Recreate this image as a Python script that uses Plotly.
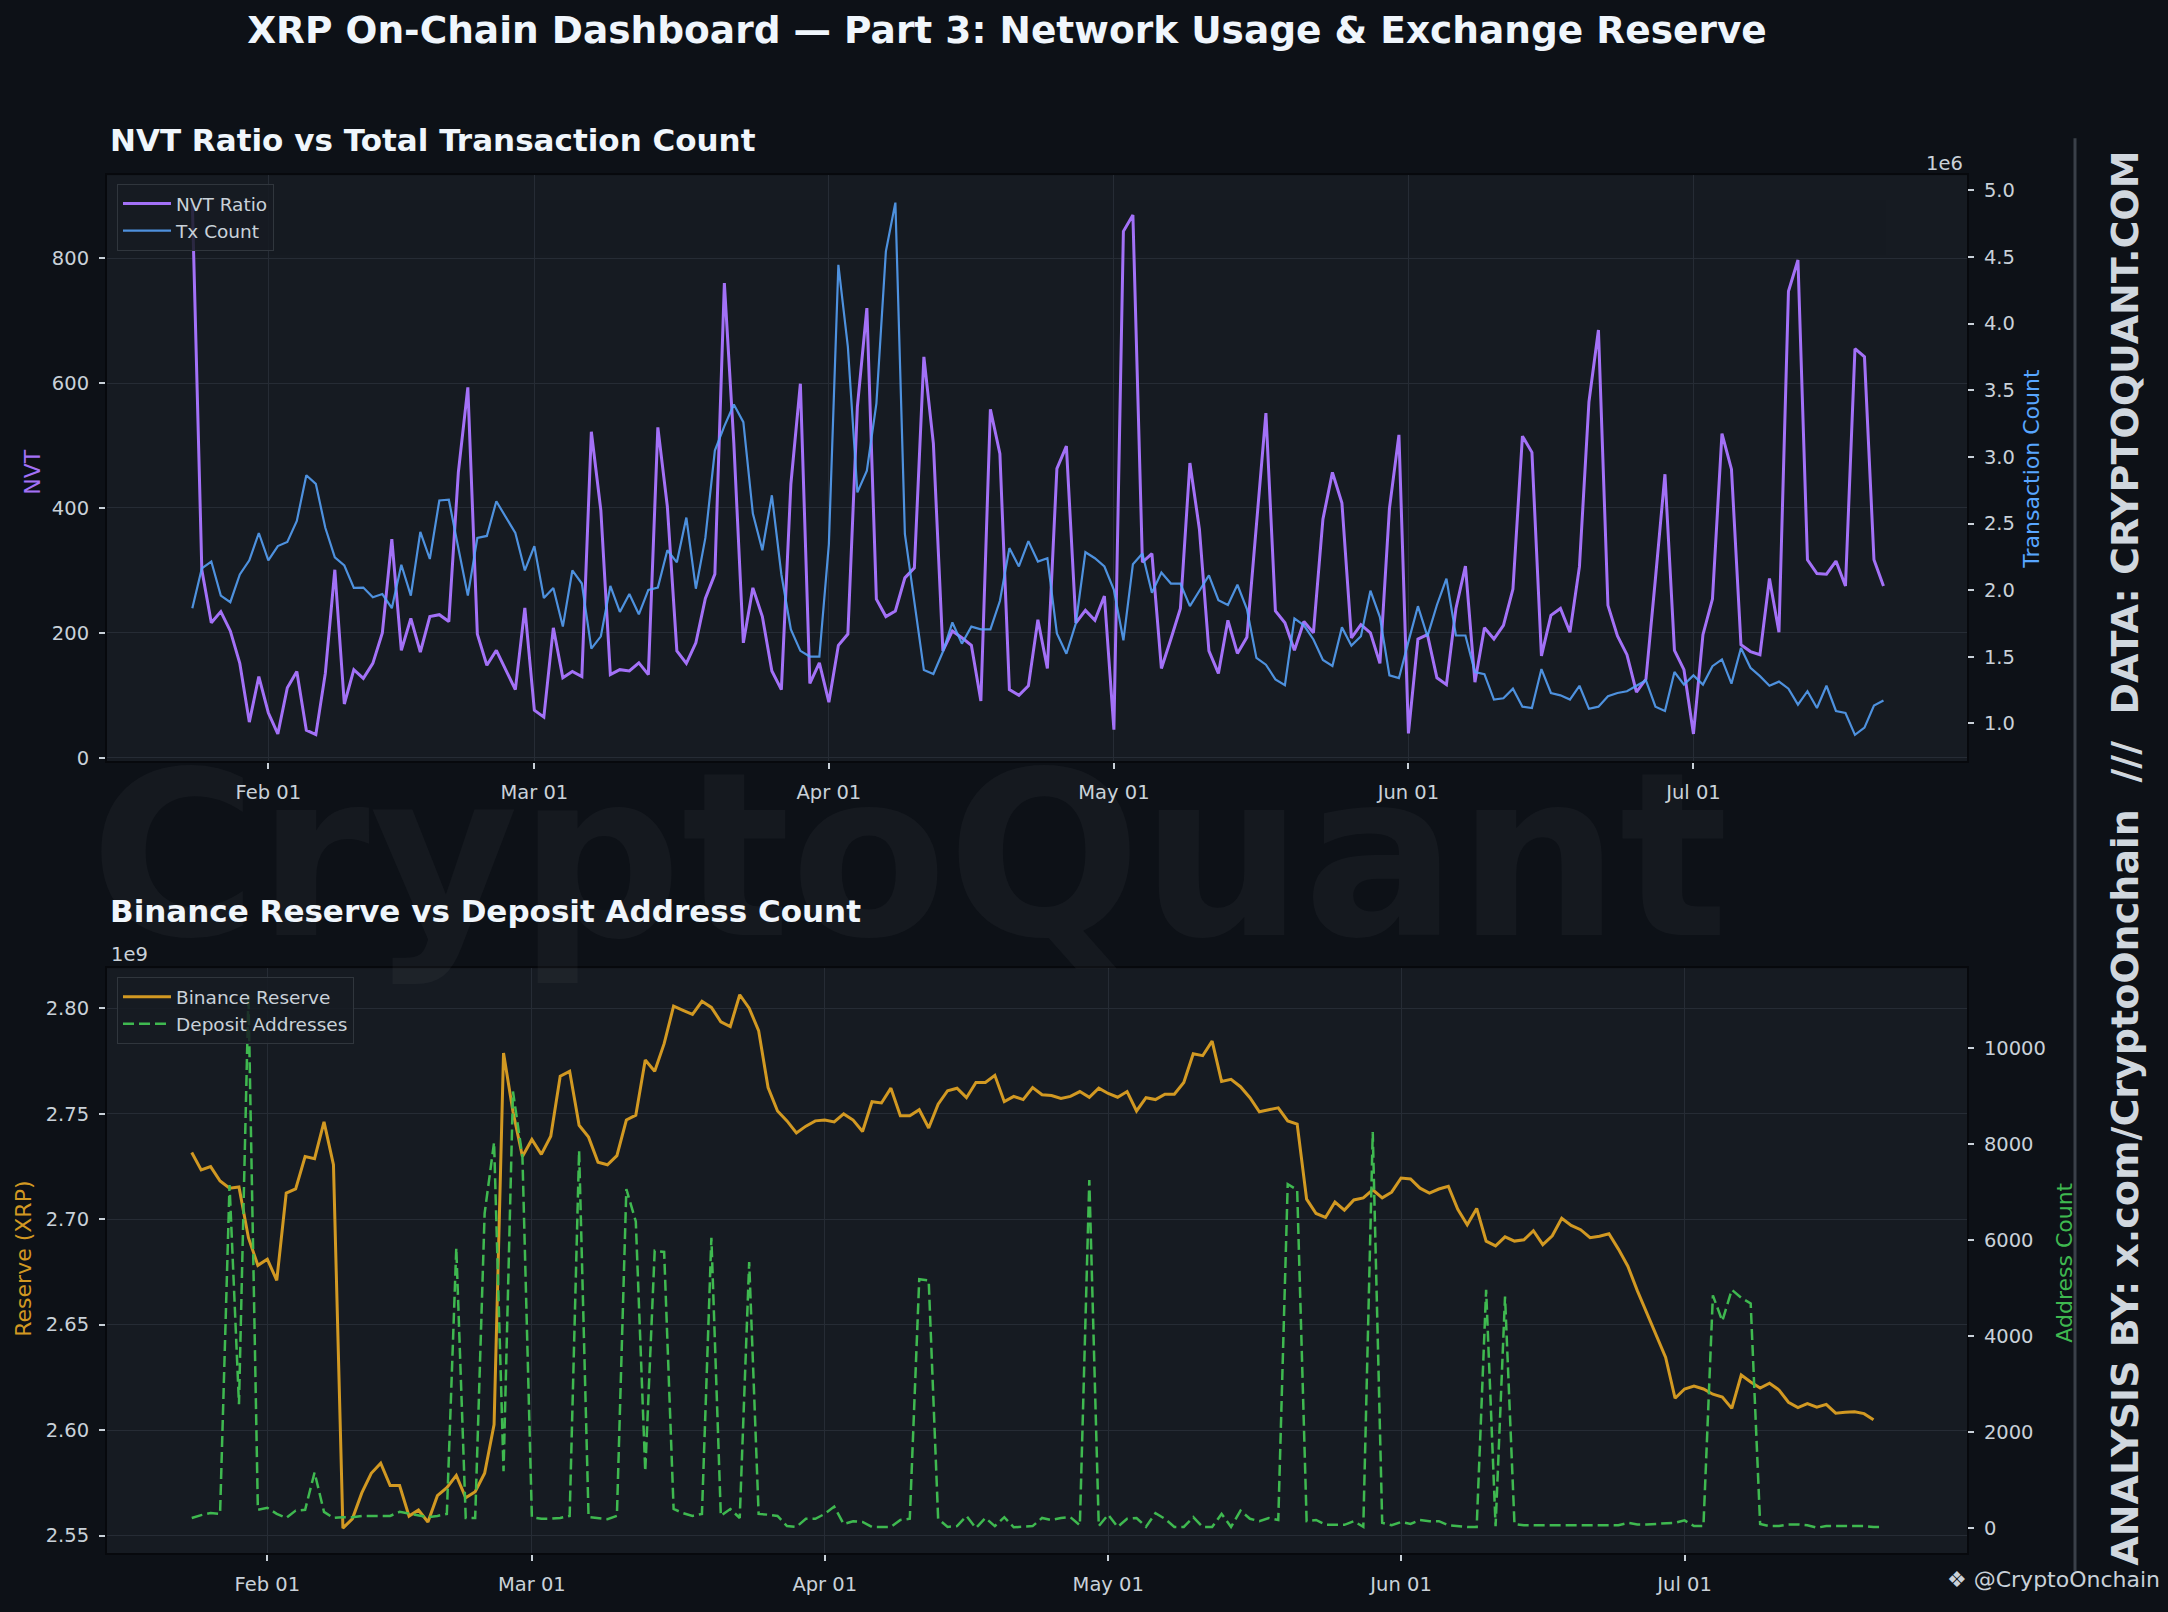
import plotly.graph_objects as go
import pandas as pd

# ---------- data (daily) ----------
start_day = "2025-01-24"

nvt_ratio = [
    890, 301, 216, 234, 203, 151, 57, 130, 72, 38,
    112, 138, 44, 37, 135, 301, 86, 141, 127, 151,
    200, 350, 172, 223, 169, 226, 229, 218, 457, 593,
    198, 148, 172, 141, 109, 240, 76, 65, 208, 128,
    138, 130, 522, 396, 133, 141, 139, 152, 133, 529,
    402, 171, 151, 184, 255, 294, 760, 503, 184, 272,
    226, 139, 109, 438, 599, 119, 152, 89, 180, 198,
    562, 720, 254, 226, 235, 288, 304, 642, 503, 171,
    203, 192, 180, 91, 558, 487, 109, 100, 115, 221,
    143, 463, 499, 216, 236, 220, 259, 45, 843, 869,
    313, 327, 143, 190, 239, 472, 366, 171, 135, 220,
    167, 193, 373, 552, 235, 216, 172, 218, 200, 382,
    457, 408, 192, 213, 200, 151, 399, 517, 39, 190,
    197, 128, 117, 239, 307, 121, 208, 190, 212, 270,
    515, 489, 163, 228, 239, 201, 306, 570, 685, 244,
    195, 165, 105, 126, 287, 454, 172, 141, 38, 197,
    254, 519, 462, 181, 170, 165, 287, 201, 747, 797,
    317, 295, 294, 315, 275, 655, 642, 317, 275,
]

# transaction count, millions
tx_count_m = [
    1.865, 2.163, 2.215, 1.959, 1.910, 2.118, 2.224, 2.429, 2.224, 2.331,
    2.362, 2.520, 2.862, 2.798, 2.468, 2.246, 2.185, 2.017, 2.020, 1.947,
    1.971, 1.865, 2.191, 1.959, 2.438, 2.234, 2.673, 2.679, 2.316, 1.959,
    2.392, 2.407, 2.667, 2.551, 2.429, 2.148, 2.331, 1.941, 2.017, 1.727,
    2.148, 2.050, 1.562, 1.654, 2.032, 1.837, 1.971, 1.819, 2.002, 2.020,
    2.300, 2.209, 2.545, 2.011, 2.392, 3.048, 3.231, 3.393, 3.261, 2.575,
    2.300, 2.712, 2.118, 1.706, 1.545, 1.502, 1.502, 2.346, 4.441, 3.826,
    2.734, 2.896, 3.399, 4.542, 4.908, 2.423, 1.904, 1.401, 1.371, 1.538,
    1.758, 1.599, 1.727, 1.706, 1.706, 1.919, 2.316, 2.178, 2.368, 2.215,
    2.240, 1.675, 1.523, 1.752, 2.285, 2.240, 2.178, 2.002, 1.624, 2.194,
    2.276, 1.980, 2.133, 2.050, 2.050, 1.880, 1.996, 2.111, 1.925, 1.889,
    2.041, 1.858, 1.492, 1.441, 1.331, 1.288, 1.788, 1.736, 1.630, 1.477,
    1.431, 1.721, 1.584, 1.654, 1.996, 1.798, 1.361, 1.340, 1.614, 1.880,
    1.654, 1.889, 2.087, 1.660, 1.660, 1.386, 1.370, 1.179, 1.189, 1.261,
    1.126, 1.116, 1.408, 1.229, 1.211, 1.179, 1.283, 1.110, 1.126, 1.204,
    1.229, 1.242, 1.283, 1.324, 1.126, 1.094, 1.386, 1.292, 1.361, 1.292,
    1.430, 1.481, 1.299, 1.566, 1.418, 1.355, 1.283, 1.314, 1.261, 1.141,
    1.242, 1.116, 1.283, 1.094, 1.079, 0.915, 0.969, 1.135, 1.173,
]

# Binance reserve, billions of XRP
binance_reserve_b = [
    2.7316, 2.7233, 2.7249, 2.7181, 2.7147, 2.7153, 2.6912, 2.6781, 2.6810, 2.6710,
    2.7124, 2.7143, 2.7297, 2.7287, 2.7461, 2.7258, 2.5535, 2.5579, 2.5702, 2.5795,
    2.5843, 2.5737, 2.5737, 2.5592, 2.5621, 2.5564, 2.5689, 2.5727, 2.5785, 2.5679,
    2.5708, 2.5795, 2.6026, 2.7788, 2.7509, 2.7297, 2.7378, 2.7307, 2.7393, 2.7678,
    2.7701, 2.7445, 2.7389, 2.7270, 2.7258, 2.7301, 2.7470, 2.7493, 2.7755, 2.7701,
    2.7832, 2.8010, 2.7990, 2.7971, 2.8033, 2.8004, 2.7936, 2.7913, 2.8064, 2.8000,
    2.7894, 2.7624, 2.7513, 2.7466, 2.7409, 2.7441, 2.7466, 2.7470, 2.7461, 2.7499,
    2.7470, 2.7416, 2.7557, 2.7551, 2.7621, 2.7490, 2.7490, 2.7519, 2.7432, 2.7545,
    2.7609, 2.7621, 2.7576, 2.7648, 2.7648, 2.7682, 2.7557, 2.7582, 2.7567, 2.7624,
    2.7590, 2.7586, 2.7572, 2.7582, 2.7605, 2.7578, 2.7621, 2.7596, 2.7578, 2.7605,
    2.7513, 2.7576, 2.7567, 2.7592, 2.7592, 2.7648, 2.7784, 2.7775, 2.7844, 2.7653,
    2.7663, 2.7628, 2.7576, 2.7509, 2.7519, 2.7528, 2.7466, 2.7451, 2.7095, 2.7027,
    2.7008, 2.7081, 2.7043, 2.7091, 2.7101, 2.7139, 2.7101, 2.7128, 2.7195, 2.7191,
    2.7147, 2.7124, 2.7143, 2.7156, 2.7047, 2.6973, 2.7051, 2.6896, 2.6873, 2.6916,
    2.6896, 2.6902, 2.6945, 2.6879, 2.6921, 2.7004, 2.6970, 2.6950, 2.6912, 2.6919,
    2.6931, 2.6858, 2.6777, 2.6661, 2.6556, 2.6450, 2.6344, 2.6151, 2.6195, 2.6209,
    2.6195, 2.6170, 2.6157, 2.6103, 2.6261, 2.6228, 2.6199, 2.6222, 2.6190, 2.6132,
    2.6107, 2.6126, 2.6109, 2.6122, 2.6080, 2.6084, 2.6087, 2.6078, 2.6049,
]

deposit_addresses = [
    211, 271, 313, 296, 7149, 2580, 11125, 381, 423, 296,
    211, 364, 381, 1159, 338, 211, 228, 228, 254, 254,
    254, 254, 338, 296, 254, 228, 254, 296, 5838, 211,
    211, 6557, 8037, 1184, 9095, 7741, 228, 195, 195, 211,
    254, 7868, 228, 211, 186, 254, 7064, 6387, 1184, 5778,
    5753, 398, 313, 254, 296, 6049, 254, 398, 211, 5541,
    296, 279, 254, 42, 25, 195, 195, 296, 448, 85,
    144, 127, 25, 25, 25, 169, 195, 5186, 5161, 195,
    25, 42, 254, 0, 211, 42, 228, 17, 25, 42,
    211, 169, 211, 228, 59, 7250, 42, 279, 25, 195,
    211, 25, 313, 195, 25, 25, 228, 25, 25, 296,
    25, 364, 195, 144, 211, 169, 7166, 7047, 144, 169,
    68, 68, 68, 144, 25, 8249, 110, 59, 127, 85,
    169, 144, 144, 59, 42, 25, 25, 4966, 42, 4822,
    85, 59, 59, 59, 59, 59, 59, 59, 59, 59,
    59, 59, 110, 76, 76, 85, 93, 110, 161, 42,
    42, 4848, 4315, 4966, 4797, 4679, 85, 42, 42, 76,
    76, 59, 8, 42, 42, 42, 42, 42, 25, 25,
]

dates = pd.date_range(start_day, periods=len(nvt_ratio), freq="D")
dates_addr = pd.date_range(start_day, periods=len(deposit_addresses), freq="D")

# ---------- style ----------
BG = "#0d1117"
PANEL = "#161b22"
GRID = "#262c35"
TXT = "#c9d1d9"
PURPLE = "#a371f7"
BLUE = "#58a6ff"
ORANGE = "#d29922"
GREEN = "#3fb950"
FONT = "DejaVu Sans"

W, H = 2168, 1612
def px_x(v):
    return v / W
def px_y(v):
    return 1 - v / H

x_dom = [px_x(107), px_x(1967)]
top_dom = [px_y(765), px_y(176)]
bot_dom = [px_y(1561), px_y(973)]

fig = go.Figure()
fig.add_trace(go.Scatter(x=dates, y=nvt_ratio, name="NVT Ratio", mode="lines",
                         line=dict(color=PURPLE, width=3), xaxis="x", yaxis="y", legend="legend"))
fig.add_trace(go.Scatter(x=dates, y=tx_count_m, name="Tx Count", mode="lines", opacity=0.85,
                         line=dict(color=BLUE, width=2.2), xaxis="x", yaxis="y2", legend="legend"))
fig.add_trace(go.Scatter(x=dates, y=binance_reserve_b, name="Binance Reserve", mode="lines",
                         line=dict(color=ORANGE, width=3), xaxis="x2", yaxis="y3", legend="legend2"))
fig.add_trace(go.Scatter(x=dates_addr, y=deposit_addresses, name="Deposit Addresses", mode="lines",
                         line=dict(color=GREEN, width=2.5, dash="11px,5px"),
                         xaxis="x2", yaxis="y4", legend="legend2"))

tick_font = dict(family=FONT, size=19.5, color=TXT)
axis_common = dict(showgrid=True, gridcolor=GRID, gridwidth=1, zeroline=False,
                   ticks="outside", ticklen=6, tickwidth=1.5, tickcolor=TXT,
                   tickfont=tick_font, showline=True, linecolor="#07090d", linewidth=2,
                   ticklabelstandoff=6)
date_axis = dict(axis_common, type="date", tickformat="%b %d", dtick="M1", tick0="2025-02-01",
                 domain=x_dom, mirror=True)

legend_style = dict(bgcolor="rgba(22,27,34,0.85)", bordercolor="#30363d", borderwidth=1,
                    font=dict(family=FONT, size=18.5, color=TXT), itemwidth=48,
                    xanchor="left", yanchor="top", tracegroupgap=0)

fig.update_layout(
    width=W, height=H, autosize=False,
    paper_bgcolor=BG, plot_bgcolor=PANEL,
    margin=dict(l=0, r=0, t=0, b=0),
    font=dict(family=FONT, color=TXT),
    title=dict(text="<b>XRP On-Chain Dashboard — Part 3: Network Usage & Exchange Reserve</b>",
               x=px_x(1007), xanchor="center", y=px_y(30), yanchor="middle",
               font=dict(family=FONT, size=37.5, color="#f0f6fc")),
    xaxis=dict(date_axis, anchor="y",
               range=["2025-01-15 00:30", "2025-07-29 19:00"]),
    yaxis=dict(axis_common, domain=top_dom, anchor="x", range=[-5.6, 933], dtick=200, mirror=True),
    yaxis2=dict(axis_common, overlaying="y", side="right", anchor="x", range=[0.717, 5.114],
                dtick=0.5, tickformat=".1f", showgrid=False, showline=False),
    xaxis2=dict(date_axis, anchor="y3",
                range=["2025-01-15 00:45", "2025-07-30 21:30"]),
    yaxis3=dict(axis_common, domain=bot_dom, anchor="x2", range=[2.5416, 2.819], dtick=0.05,
                tickformat=".2f", mirror=True),
    yaxis4=dict(axis_common, overlaying="y3", side="right", anchor="x2", range=[-524, 11665],
                dtick=2000, tickformat="d", showgrid=False, showline=False),
    legend=dict(legend_style, x=px_x(117), y=px_y(185)),
    legend2=dict(legend_style, x=px_x(117), y=px_y(982)),
    showlegend=True,
)

annotations = [
    # panel titles
    dict(text="<b>NVT Ratio vs Total Transaction Count</b>", x=px_x(108), y=px_y(141),
         xanchor="left", font=dict(size=31, color="#f0f6fc")),
    dict(text="<b>Binance Reserve vs Deposit Address Count</b>", x=px_x(108), y=px_y(916),
         xanchor="left", font=dict(size=31, color="#f0f6fc")),
    # offset labels
    dict(text="1e6", x=px_x(1965), y=px_y(164), xanchor="right", font=dict(size=19.5, color=TXT)),
    dict(text="1e9", x=px_x(109), y=px_y(959), xanchor="left", font=dict(size=19.5, color=TXT)),
    # axis titles
    dict(text="NVT", x=px_x(33), y=px_y(474), textangle=-90, font=dict(size=22, color=PURPLE)),
    dict(text="Transaction Count", x=px_x(2032), y=px_y(471), textangle=-90,
         font=dict(size=22, color=BLUE)),
    dict(text="Reserve (XRP)", x=px_x(24), y=px_y(1265), textangle=-90,
         font=dict(size=22, color=ORANGE)),
    dict(text="Address Count", x=px_x(2065), y=px_y(1269), textangle=-90,
         font=dict(size=22, color=GREEN)),
    # watermark
    dict(text="<b>CryptoQuant</b>", x=px_x(909), y=px_y(860),
         font=dict(size=228, color="rgba(255,255,255,0.035)")),
    # side credit
    dict(text="<b>ANALYSIS BY: x.com/CryptoOnchain  ///  DATA: CRYPTOQUANT.COM</b>",
         x=px_x(2125), y=px_y(863), textangle=-90, font=dict(size=38, color="#d0d7de")),
    # handle
    dict(text="❖ @CryptoOnchain", x=px_x(2162), y=px_y(1587), xanchor="right",
         font=dict(size=22, color=TXT)),
]
for a in annotations:
    a.setdefault("xref", "paper")
    a.setdefault("yref", "paper")
    a.setdefault("xanchor", "center")
    a.setdefault("yanchor", "middle")
    a.setdefault("showarrow", False)
    a["font"].setdefault("family", FONT)
    fig.add_annotation(**a)

# separator between the charts and the credit text
fig.add_shape(type="line", xref="paper", yref="paper",
              x0=px_x(2075), x1=px_x(2075), y0=px_y(1579), y1=px_y(139),
              line=dict(color="#3a4049", width=3))

fig.write_html("out.html", config={"displayModeBar": False},
               post_script="document.body.style.margin='0';document.body.style.overflow='hidden';")
